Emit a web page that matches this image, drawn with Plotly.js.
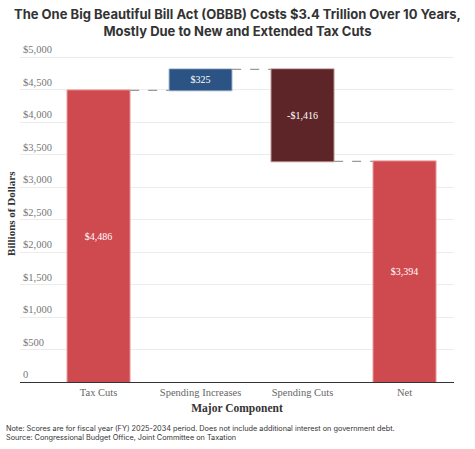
<!DOCTYPE html>
<html><head><meta charset="utf-8">
<script src="https://cdn.plot.ly/plotly-3.0.1.min.js"></script>
<style>html,body{margin:0;padding:0;background:#fff;}#chart{width:475px;height:449px;}</style>
</head><body><div id="chart"></div>
<script>
const categories = ["Tax Cuts", "Spending Increases", "Spending Cuts", "Net"];
const values = [4486, 325, -1416, 3394];
const measures = ["absolute", "relative", "relative", "absolute"];
const yTickVals = [0, 500, 1000, 1500, 2000, 2500, 3000, 3500, 4000, 4500, 5000];
const yTickText = ["0", "$500", "$1,000", "$1,500", "$2,000", "$2,500", "$3,000", "$3,500", "$4,000", "$4,500", "$5,000"];

function fmt(v){ const s = "$" + Math.abs(v).toLocaleString("en-US"); return v < 0 ? "-" + s : s; }
const labels = values.map(fmt);

const serif = "Liberation Serif, DejaVu Serif, serif";
const sans = "Inter, Open Sans, sans-serif";
const trace = {
  type: "waterfall",
  x: categories,
  y: values,
  measure: measures,
  text: labels,
  textposition: "inside",
  insidetextanchor: "middle",
  textfont: {family: serif, size: 10, color: "#ffffff"},
  hoverinfo: "none",
  width: 0.62,
  totals: {marker: {color: "#cf4a4f", line: {color: "#f0b5b5", width: 1}}},
  increasing: {marker: {color: "#2b5485", line: {color: "#c9d4e3", width: 1}}},
  decreasing: {marker: {color: "#5e2528", line: {color: "#d8b8b8", width: 1}}},
  connector: {mode: "between", line: {color: "#9a9a9a", width: 1.2, dash: "dash"}}
};

const layout = {
  width: 475, height: 449,
  margin: {l: 20, r: 21, t: 44, b: 67},
  paper_bgcolor: "#ffffff", plot_bgcolor: "#ffffff",
  showlegend: false,
  xaxis: {
    range: [-0.77, 3.485],
    tickfont: {family: serif, size: 10.5, color: "#666666"},
    showgrid: false, zeroline: false,
    showline: true, linecolor: "#333333", linewidth: 1.3,
    ticks: "", ticklen: 0,
    title: {text: "<b>Major Component</b>", font: {family: serif, size: 11.5, color: "#333333"}, standoff: 7},
    fixedrange: true
  },
  yaxis: {
    range: [0, 5200],
    tickvals: yTickVals, ticktext: yTickText,
    ticklabelposition: "inside top",
    tickfont: {family: serif, size: 10.5, color: "#777777"},
    showgrid: true, gridcolor: "#ececec", gridwidth: 1,
    zeroline: false, showline: false, ticks: "",
    fixedrange: true
  },
  annotations: [
    {text: "<b>The One Big Beautiful Bill Act (OBBB) Costs $3.4 Trillion Over 10 Years,<br>Mostly Due to New and Extended Tax Cuts</b>",
     xref: "paper", yref: "paper", x: 0.5, y: 1.118, xanchor: "center", yanchor: "top",
     showarrow: false, font: {family: sans, size: 13, color: "#333333", weight: 800}},
    {text: "<b>Billions of Dollars</b>", textangle: -90, xref: "paper", yref: "paper",
     x: -0.021, y: 0.5, xanchor: "center", yanchor: "middle", showarrow: false,
     font: {family: serif, size: 11, color: "#333333"}},
    {text: "Note: Scores are for fiscal year (FY) 2025-2034 period. Does not include additional interest on government debt.<br>Source: Congressional Budget Office, Joint Committee on Taxation",
     xref: "paper", yref: "paper", x: -0.038, y: -0.118, xanchor: "left", yanchor: "top", align: "left",
     showarrow: false, font: {family: sans, size: 7.3, color: "#333333"}}
  ]
};

Plotly.newPlot("chart", [trace], layout, {displayModeBar: false, staticPlot: true});
</script></body></html>
